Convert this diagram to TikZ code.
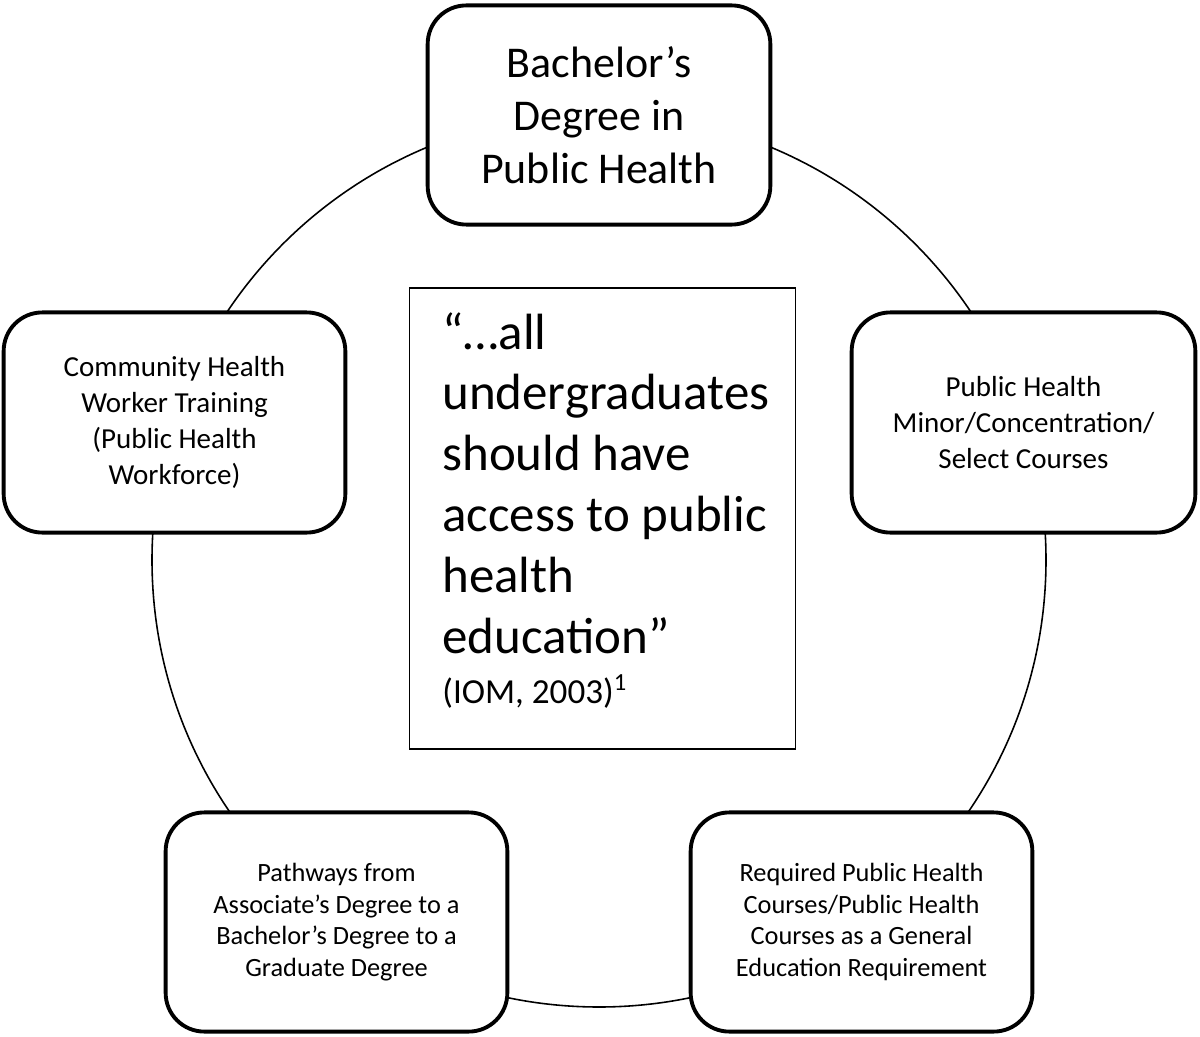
\documentclass[tikz,border=0pt]{standalone}
\usepackage{fontspec}
\setmainfont{Carlito}
\begin{document}
\begin{tikzpicture}[x=0.02cm,y=-0.02cm,
  rbox/.style={draw,line width=2.2pt,rounded corners=22pt,fill=white,align=center,inner sep=0pt},
  sm/.style={font=\fontsize{16.5}{20.5}\selectfont},
  xs/.style={font=\fontsize{15}{18}\selectfont}]
\useasboundingbox (0,0) rectangle (1200,1037);
\draw[line width=0.9pt] (599,560) circle[radius=447];
\node[rbox,minimum width=344*0.567pt,minimum height=220*0.567pt,font=\fontsize{25}{30}\selectfont] (top) at (599,115) {Bachelor's\\Degree in\\Public Health};
\node[rbox,sm,minimum width=343*0.567pt,minimum height=221*0.567pt] (left) at (174.5,422.5) {Community Health\\Worker Training\\(Public Health\\Workforce)};
\node[rbox,sm,minimum width=345*0.567pt,minimum height=221*0.567pt] (right) at (1023.5,422.5) {Public Health\\Minor/Concentration/\\Select Courses};
\node[rbox,xs,minimum width=343*0.567pt,minimum height=220*0.567pt] (bl) at (336.5,922) {Pathways from\\Associate's Degree to a\\Bachelor's Degree to a\\Graduate Degree};
\node[rbox,xs,minimum width=343*0.567pt,minimum height=220*0.567pt] (br) at (861.5,922) {Required Public Health\\Courses/Public Health\\Courses as a General\\Education Requirement};
\node[draw,line width=0.8pt,fill=white,minimum width=387*0.567pt,minimum height=463*0.567pt,inner sep=0pt] (ctr) at (602.5,518.5) {};
\node[anchor=north west,align=left,inner sep=0pt,font=\fontsize{29}{34.6}\selectfont] (q) at (442,312) {“…all\\undergraduates\\should have\\access to public\\health\\education”\\[-6pt]{\fontsize{20}{24}\selectfont (IOM, 2003)\textsuperscript{1}}};
\end{tikzpicture}
\end{document}
